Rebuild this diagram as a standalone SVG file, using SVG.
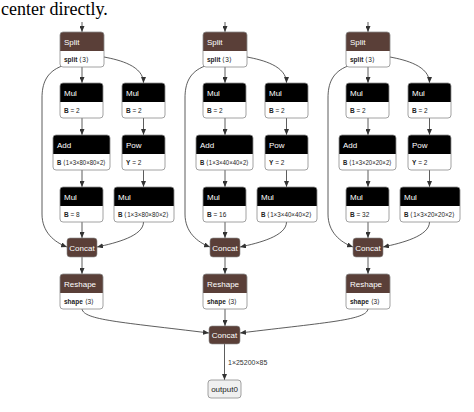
<svg xmlns="http://www.w3.org/2000/svg" width="474" height="412" viewBox="0 0 474 412">
<defs>
<style>
.hb{fill:#5a3f38}
.hk{fill:#000}
.bd{fill:#fff}
.ol{fill:none;stroke:#8a8a8a;stroke-width:0.8}
.ht{font-family:"Liberation Sans",Arial,sans-serif;font-size:8px;fill:#fff}
.bt{font-family:"Liberation Sans",Arial,sans-serif;font-size:6.5px;fill:#222}
.b{font-weight:bold}
.c{fill:none;stroke:#333;stroke-width:0.8}
.cn{fill:#5a3f38;stroke:#8a8a8a;stroke-width:0.6}
.lbl{font-family:"Liberation Sans",Arial,sans-serif;font-size:7px;fill:#333}
</style>
<marker id="ah" markerUnits="userSpaceOnUse" markerWidth="6" markerHeight="5" refX="6" refY="2.5" orient="auto">
<path d="M0,0 L6,2.5 L0,5 Z" fill="#333"/>
</marker>
</defs>
<rect width="474" height="412" fill="#fff"/>
<text x="1" y="15" font-family="'Liberation Serif','Times New Roman',serif" font-size="18" fill="#000">center directly.</text>

<g id="connectors" class="c" marker-end="url(#ah)">
<!-- column 1 -->
<path d="M82,22 V32"/>
<path d="M82,67 V83"/>
<path d="M104,57 C120,60 143.5,66 143.5,83"/>
<path d="M62,66 C46,72 42,84 42,98 V214 C42,232 54,242 67,247"/>
<path d="M82,118 V135"/>
<path d="M143.5,118 V135"/>
<path d="M82,170 V187"/>
<path d="M143.5,170 V187"/>
<path d="M82,222 V238"/>
<path d="M143.5,222 C143.5,236 116,243 97,247"/>
<path d="M82,257 V274"/>
<!-- column 2 -->
<path d="M225,22 V32"/>
<path d="M225,67 V83"/>
<path d="M247,57 C263,60 286.5,66 286.5,83"/>
<path d="M205,66 C189,72 185,84 185,98 V214 C185,232 197,242 210,247"/>
<path d="M225,118 V135"/>
<path d="M286.5,118 V135"/>
<path d="M225,170 V187"/>
<path d="M286.5,170 V187"/>
<path d="M225,222 V238"/>
<path d="M286.5,222 C286.5,236 259,243 240,247"/>
<path d="M225,257 V274"/>
<!-- column 3 -->
<path d="M368,22 V32"/>
<path d="M368,67 V83"/>
<path d="M390,57 C406,60 429.5,66 429.5,83"/>
<path d="M348,66 C332,72 328,84 328,98 V214 C328,232 340,242 353,247"/>
<path d="M368,118 V135"/>
<path d="M429.5,118 V135"/>
<path d="M368,170 V187"/>
<path d="M429.5,170 V187"/>
<path d="M368,222 V238"/>
<path d="M429.5,222 C429.5,236 402,243 383,247"/>
<path d="M368,257 V274"/>
<!-- bottom -->
<path d="M82,309 C84,320 120,322 209,333"/>
<path d="M225,309 V326"/>
<path d="M368,309 C366,320 330,322 240,333"/>
<path d="M224.5,344 V380"/>
</g>
<text class="lbl" x="228" y="365">1×25200×85</text>

<!-- Column 1 -->
<g id="split1"><rect class="bd" x="60" y="32" width="44" height="35" rx="3"/><path class="hb" d="M60,51 V35 Q60,32 63,32 H101 Q104,32 104,35 V51 Z"/><rect class="ol" x="60" y="32" width="44" height="35" rx="3"/><text class="ht" x="64" y="44.5">Split</text><text class="bt" x="64" y="61.5"><tspan class="b">split</tspan> ⟨3⟩</text></g>
<g id="mul1a"><rect class="bd" x="60" y="83" width="43" height="35" rx="3"/><path class="hk" d="M60,102 V86 Q60,83 63,83 H100 Q103,83 103,86 V102 Z"/><rect class="ol" x="60" y="83" width="43" height="35" rx="3"/><text class="ht" x="64" y="95.5">Mul</text><text class="bt" x="64" y="112.5"><tspan class="b">B</tspan> = 2</text></g>
<g id="mul1b"><rect class="bd" x="122" y="83" width="43" height="35" rx="3"/><path class="hk" d="M122,102 V86 Q122,83 125,83 H162 Q165,83 165,86 V102 Z"/><rect class="ol" x="122" y="83" width="43" height="35" rx="3"/><text class="ht" x="126" y="95.5">Mul</text><text class="bt" x="126" y="112.5"><tspan class="b">B</tspan> = 2</text></g>
<g id="add1"><rect class="bd" x="53" y="135" width="57" height="35" rx="3"/><path class="hk" d="M53,154 V138 Q53,135 56,135 H107 Q110,135 110,138 V154 Z"/><rect class="ol" x="53" y="135" width="57" height="35" rx="3"/><text class="ht" x="57" y="147.5">Add</text><text class="bt" x="57" y="164.5" textLength="49" lengthAdjust="spacingAndGlyphs"><tspan class="b">B</tspan> ⟨1×3×80×80×2⟩</text></g>
<g id="pow1"><rect class="bd" x="122" y="135" width="43" height="35" rx="3"/><path class="hk" d="M122,154 V138 Q122,135 125,135 H162 Q165,135 165,138 V154 Z"/><rect class="ol" x="122" y="135" width="43" height="35" rx="3"/><text class="ht" x="126" y="147.5">Pow</text><text class="bt" x="126" y="164.5"><tspan class="b">Y</tspan> = 2</text></g>
<g id="mul1c"><rect class="bd" x="60" y="187" width="43" height="35" rx="3"/><path class="hk" d="M60,206 V190 Q60,187 63,187 H100 Q103,187 103,190 V206 Z"/><rect class="ol" x="60" y="187" width="43" height="35" rx="3"/><text class="ht" x="64" y="199.5">Mul</text><text class="bt" x="64" y="216.5"><tspan class="b">B</tspan> = 8</text></g>
<g id="mul1d"><rect class="bd" x="114" y="187" width="60" height="35" rx="3"/><path class="hk" d="M114,206 V190 Q114,187 117,187 H171 Q174,187 174,190 V206 Z"/><rect class="ol" x="114" y="187" width="60" height="35" rx="3"/><text class="ht" x="118" y="199.5">Mul</text><text class="bt" x="118" y="216.5" textLength="51" lengthAdjust="spacingAndGlyphs"><tspan class="b">B</tspan> ⟨1×3×80×80×2⟩</text></g>
<g id="concat1"><rect class="cn" x="67" y="238" width="30" height="19" rx="3"/><text class="ht" x="82" y="250.5" text-anchor="middle">Concat</text></g>
<g id="reshape1"><rect class="bd" x="60" y="274" width="43" height="35" rx="3"/><path class="hb" d="M60,293 V277 Q60,274 63,274 H100 Q103,274 103,277 V293 Z"/><rect class="ol" x="60" y="274" width="43" height="35" rx="3"/><text class="ht" x="64" y="286.5">Reshape</text><text class="bt" x="64" y="303.5"><tspan class="b">shape</tspan> ⟨3⟩</text></g>

<!-- Column 2 -->
<g id="split2"><rect class="bd" x="203" y="32" width="44" height="35" rx="3"/><path class="hb" d="M203,51 V35 Q203,32 206,32 H244 Q247,32 247,35 V51 Z"/><rect class="ol" x="203" y="32" width="44" height="35" rx="3"/><text class="ht" x="207" y="44.5">Split</text><text class="bt" x="207" y="61.5"><tspan class="b">split</tspan> ⟨3⟩</text></g>
<g id="mul2a"><rect class="bd" x="203" y="83" width="43" height="35" rx="3"/><path class="hk" d="M203,102 V86 Q203,83 206,83 H243 Q246,83 246,86 V102 Z"/><rect class="ol" x="203" y="83" width="43" height="35" rx="3"/><text class="ht" x="207" y="95.5">Mul</text><text class="bt" x="207" y="112.5"><tspan class="b">B</tspan> = 2</text></g>
<g id="mul2b"><rect class="bd" x="265" y="83" width="43" height="35" rx="3"/><path class="hk" d="M265,102 V86 Q265,83 268,83 H305 Q308,83 308,86 V102 Z"/><rect class="ol" x="265" y="83" width="43" height="35" rx="3"/><text class="ht" x="269" y="95.5">Mul</text><text class="bt" x="269" y="112.5"><tspan class="b">B</tspan> = 2</text></g>
<g id="add2"><rect class="bd" x="196" y="135" width="57" height="35" rx="3"/><path class="hk" d="M196,154 V138 Q196,135 199,135 H250 Q253,135 253,138 V154 Z"/><rect class="ol" x="196" y="135" width="57" height="35" rx="3"/><text class="ht" x="200" y="147.5">Add</text><text class="bt" x="200" y="164.5" textLength="49" lengthAdjust="spacingAndGlyphs"><tspan class="b">B</tspan> ⟨1×3×40×40×2⟩</text></g>
<g id="pow2"><rect class="bd" x="265" y="135" width="43" height="35" rx="3"/><path class="hk" d="M265,154 V138 Q265,135 268,135 H305 Q308,135 308,138 V154 Z"/><rect class="ol" x="265" y="135" width="43" height="35" rx="3"/><text class="ht" x="269" y="147.5">Pow</text><text class="bt" x="269" y="164.5"><tspan class="b">Y</tspan> = 2</text></g>
<g id="mul2c"><rect class="bd" x="203" y="187" width="43" height="35" rx="3"/><path class="hk" d="M203,206 V190 Q203,187 206,187 H243 Q246,187 246,190 V206 Z"/><rect class="ol" x="203" y="187" width="43" height="35" rx="3"/><text class="ht" x="207" y="199.5">Mul</text><text class="bt" x="207" y="216.5"><tspan class="b">B</tspan> = 16</text></g>
<g id="mul2d"><rect class="bd" x="257" y="187" width="60" height="35" rx="3"/><path class="hk" d="M257,206 V190 Q257,187 260,187 H314 Q317,187 317,190 V206 Z"/><rect class="ol" x="257" y="187" width="60" height="35" rx="3"/><text class="ht" x="261" y="199.5">Mul</text><text class="bt" x="261" y="216.5" textLength="51" lengthAdjust="spacingAndGlyphs"><tspan class="b">B</tspan> ⟨1×3×40×40×2⟩</text></g>
<g id="concat2"><rect class="cn" x="210" y="238" width="30" height="19" rx="3"/><text class="ht" x="225" y="250.5" text-anchor="middle">Concat</text></g>
<g id="reshape2"><rect class="bd" x="203" y="274" width="44" height="35" rx="3"/><path class="hb" d="M203,293 V277 Q203,274 206,274 H244 Q247,274 247,277 V293 Z"/><rect class="ol" x="203" y="274" width="44" height="35" rx="3"/><text class="ht" x="207" y="286.5">Reshape</text><text class="bt" x="207" y="303.5"><tspan class="b">shape</tspan> ⟨3⟩</text></g>

<!-- Column 3 -->
<g id="split3"><rect class="bd" x="346" y="32" width="44" height="35" rx="3"/><path class="hb" d="M346,51 V35 Q346,32 349,32 H387 Q390,32 390,35 V51 Z"/><rect class="ol" x="346" y="32" width="44" height="35" rx="3"/><text class="ht" x="350" y="44.5">Split</text><text class="bt" x="350" y="61.5"><tspan class="b">split</tspan> ⟨3⟩</text></g>
<g id="mul3a"><rect class="bd" x="346" y="83" width="43" height="35" rx="3"/><path class="hk" d="M346,102 V86 Q346,83 349,83 H386 Q389,83 389,86 V102 Z"/><rect class="ol" x="346" y="83" width="43" height="35" rx="3"/><text class="ht" x="350" y="95.5">Mul</text><text class="bt" x="350" y="112.5"><tspan class="b">B</tspan> = 2</text></g>
<g id="mul3b"><rect class="bd" x="408" y="83" width="43" height="35" rx="3"/><path class="hk" d="M408,102 V86 Q408,83 411,83 H448 Q451,83 451,86 V102 Z"/><rect class="ol" x="408" y="83" width="43" height="35" rx="3"/><text class="ht" x="412" y="95.5">Mul</text><text class="bt" x="412" y="112.5"><tspan class="b">B</tspan> = 2</text></g>
<g id="add3"><rect class="bd" x="339" y="135" width="57" height="35" rx="3"/><path class="hk" d="M339,154 V138 Q339,135 342,135 H393 Q396,135 396,138 V154 Z"/><rect class="ol" x="339" y="135" width="57" height="35" rx="3"/><text class="ht" x="343" y="147.5">Add</text><text class="bt" x="343" y="164.5" textLength="49" lengthAdjust="spacingAndGlyphs"><tspan class="b">B</tspan> ⟨1×3×20×20×2⟩</text></g>
<g id="pow3"><rect class="bd" x="408" y="135" width="43" height="35" rx="3"/><path class="hk" d="M408,154 V138 Q408,135 411,135 H448 Q451,135 451,138 V154 Z"/><rect class="ol" x="408" y="135" width="43" height="35" rx="3"/><text class="ht" x="412" y="147.5">Pow</text><text class="bt" x="412" y="164.5"><tspan class="b">Y</tspan> = 2</text></g>
<g id="mul3c"><rect class="bd" x="346" y="187" width="43" height="35" rx="3"/><path class="hk" d="M346,206 V190 Q346,187 349,187 H386 Q389,187 389,190 V206 Z"/><rect class="ol" x="346" y="187" width="43" height="35" rx="3"/><text class="ht" x="350" y="199.5">Mul</text><text class="bt" x="350" y="216.5"><tspan class="b">B</tspan> = 32</text></g>
<g id="mul3d"><rect class="bd" x="400" y="187" width="60" height="35" rx="3"/><path class="hk" d="M400,206 V190 Q400,187 403,187 H457 Q460,187 460,190 V206 Z"/><rect class="ol" x="400" y="187" width="60" height="35" rx="3"/><text class="ht" x="404" y="199.5">Mul</text><text class="bt" x="404" y="216.5" textLength="51" lengthAdjust="spacingAndGlyphs"><tspan class="b">B</tspan> ⟨1×3×20×20×2⟩</text></g>
<g id="concat3"><rect class="cn" x="353" y="238" width="30" height="19" rx="3"/><text class="ht" x="368" y="250.5" text-anchor="middle">Concat</text></g>
<g id="reshape3"><rect class="bd" x="346" y="274" width="44" height="35" rx="3"/><path class="hb" d="M346,293 V277 Q346,274 349,274 H387 Q390,274 390,277 V293 Z"/><rect class="ol" x="346" y="274" width="44" height="35" rx="3"/><text class="ht" x="350" y="286.5">Reshape</text><text class="bt" x="350" y="303.5"><tspan class="b">shape</tspan> ⟨3⟩</text></g>

<!-- Bottom -->
<g id="concat_out"><rect class="cn" x="209" y="326" width="31" height="18" rx="3"/><text class="ht" x="224.5" y="338" text-anchor="middle">Concat</text></g>
<g id="output0"><rect x="208" y="380" width="33" height="18" rx="3" fill="#f0f0f0" stroke="#8a8a8a" stroke-width="0.8"/><text class="ht" x="224.5" y="392" text-anchor="middle" style="fill:#222">output0</text></g>
</svg>
